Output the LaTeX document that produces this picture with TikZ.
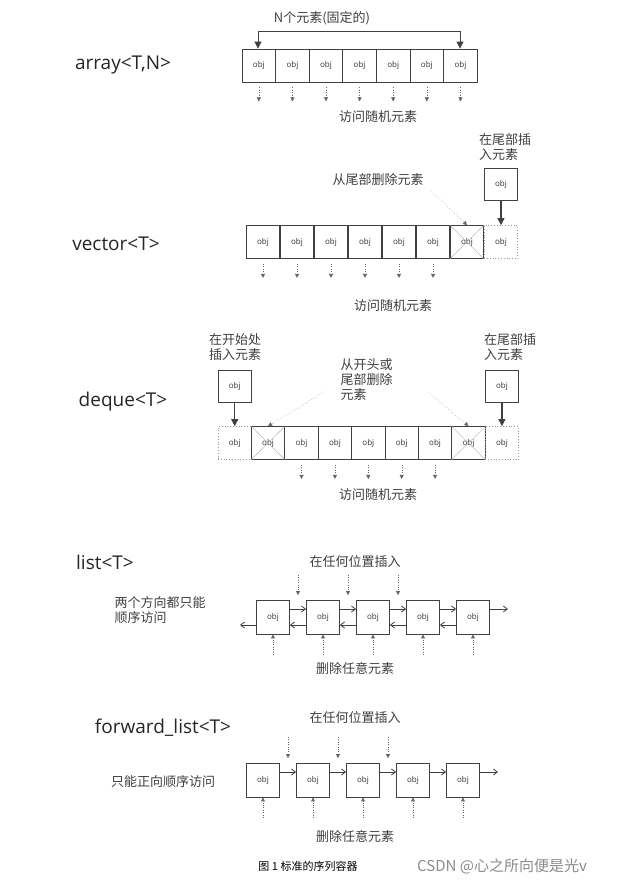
\documentclass[tikz,border=0pt]{standalone}
\usepackage{fontspec}
\setmainfont{Open Sans}
\newfontfamily\cjk{Noto Sans CJK SC}
\usetikzlibrary{arrows.meta}
\begin{document}
\begin{tikzpicture}[x=1pt,y=-1pt,
  cell/.style={draw=black!75,line width=0.8pt,minimum width=33.6pt,minimum height=33pt,inner sep=0pt,font=\fontsize{8}{9}\selectfont,text=black!80},
  ghost/.style={cell,draw=black!40,dotted},
  lbl/.style={font=\fontsize{19}{21}\selectfont,text=black!85},
  cn/.style={font=\cjk\fontsize{13}{15}\selectfont,text=black!75,align=left},
  dotarr/.style={dotted,black!60,-{Triangle[length=4pt,width=4pt]},draw=black!60},
  thick arr/.style={line width=1.2pt,black!75,-{Triangle[length=7pt,width=7pt]}},
  link/.style={black!75,line width=0.8pt,-{Straight Barb[length=4pt,width=6pt]}}]
\useasboundingbox[fill=white] (0,0) rectangle (626,886);
% ---------- array
\node[lbl] (la) at (123,65) {array<T,N>};
\foreach \i in {1,...,7}{\node[cell] (a\i) at ({242+33.6*(\i-0.5)},65.5) {obj};}
\coordinate (ab1) at (258,31); \coordinate (ab2) at (460,31);
\draw[black!75,line width=0.8pt] (ab1) -- (ab2);
\draw[thick arr,line width=0.8pt] (ab1) -- (ab1 |- a1.north);
\draw[thick arr,line width=0.8pt] (ab2) -- (ab2 |- a7.north);
\node[cn] (tn) at (322,18) {N个元素(固定的)};
\foreach \i in {1,...,7}{\draw[dotarr] ([yshift=-5pt]a\i.south) -- ++(0,14);}
\node[cn] (ra) at (378,117) {访问随机元素};
% ---------- vector
\node[lbl] (lv) at (116,244) {vector<T>};
\foreach \i in {1,...,7}{\node[cell] (v\i) at ({246+34*(\i-0.5)},242) {obj};}
\node[ghost] (v8) at ({246+34*7.5},242) {obj};
\draw[black!30,thin] (v7.north west) -- (v7.south east) (v7.north east) -- (v7.south west);
\foreach \i in {1,...,6}{\draw[dotarr] ([yshift=-5pt]v\i.south) -- ++(0,14);}
\node[cn] (rv) at (393,306) {访问随机元素};
\node[cn] (dv) at (378,180) {从尾部删除元素};
\draw[dotarr] (430,190) -- (v7.north);
\node[cell,minimum width=33pt,minimum height=32pt] (iv) at (501,184) {obj};
\node[cn] (tiv) at (505,147) {在尾部插\\入元素};
\draw[thick arr] (iv.south) -- (v8.north);
% ---------- deque
\node[lbl] (ld) at (123,402) {deque<T>};
\node[ghost,minimum width=33.4pt] (d1) at ({218+33.4*0.5},443) {obj};
\foreach \i in {2,...,8}{\node[cell,minimum width=33.4pt] (d\i) at ({218+33.4*(\i-0.5)},443) {obj};}
\node[ghost,minimum width=33.4pt] (d9) at ({218+33.4*8.5},443) {obj};
\foreach \k in {2,8}{\draw[black!30,thin] (d\k.north west) -- (d\k.south east) (d\k.north east) -- (d\k.south west);}
\node[cell,minimum width=33pt,minimum height=32pt] (il) at (d1 |- 0,386) {obj};
\node[cell,minimum width=33pt,minimum height=32pt] (ir) at (d9 |- 0,386) {obj};
\draw[thick arr] (il.south) -- (d1.north);
\draw[thick arr] (ir.south) -- (d9.north);
\node[cn] (til) at (235,347) {在开始处\\插入元素};
\node[cn] (tir) at (510,347) {在尾部插\\入元素};
\node[cn,anchor=west] (dd) at (337,380) {从开头或\\尾部删除\\元素};
\draw[dotarr] (324,392) -- (d2.north);
\draw[dotarr] (428,392) -- (d8.north);
\foreach \i in {3,...,7}{\draw[dotarr] ([yshift=-5pt]d\i.south) -- ++(0,14);}
\node[cn] (rd) at (378,495) {访问随机元素};
% ---------- list
\node[lbl] (ll) at (105,562) {list<T>};
\node[cn] (tl) at (160,610) {两个方向都只能\\顺序访问};
\foreach \i in {1,...,5}{\node[cell,minimum width=33pt,minimum height=34pt] (l\i) at ({273+50*(\i-1)},617) {obj};}
\foreach \i/\j in {1/2,2/3,3/4,4/5}{
  \draw[link] ([yshift=8pt]l\i.east) -- ([yshift=8pt]l\j.west);
  \draw[link] ([yshift=-8pt]l\j.west) -- ([yshift=-8pt]l\i.east);}
\coordinate (lend) at (508,609); \coordinate (lbeg) at (240,625);
\draw[link] ([yshift=8pt]l5.east) -- (lend);
\draw[link] ([yshift=-8pt]l1.west) -- (lbeg);
\foreach \x in {298,348,398}{\draw[dotarr] (\x,575) -- (\x,595);}
\foreach \i in {1,...,5}{\draw[dotarr] ([yshift=-20pt]l\i.south) -- (l\i.south);}
\node[cn] (il1) at (355,562) {在任何位置插入};
\node[cn] (dl1) at (355,668) {删除任意元素};
% ---------- forward_list
\node[lbl] (lf) at (163,728) {forward\_list<T>};
\node[cn] (tf) at (163,782) {只能正向顺序访问};
\foreach \i in {1,...,5}{\node[cell,minimum width=33pt,minimum height=34pt] (f\i) at ({263+50*(\i-1)},780) {obj};}
\foreach \i/\j in {1/2,2/3,3/4,4/5}{\draw[link] ([yshift=8pt]f\i.east) -- ([yshift=8pt]f\j.west);}
\coordinate (fend) at (498,772);
\draw[link] ([yshift=8pt]f5.east) -- (fend);
\foreach \x in {288,338,388}{\draw[dotarr] (\x,737) -- (\x,758);}
\foreach \i in {1,...,5}{\draw[dotarr] ([yshift=-20pt]f\i.south) -- (f\i.south);}
\node[cn] (if1) at (355,718) {在任何位置插入};
\node[cn] (df1) at (355,836) {删除任意元素};
% ---------- caption
\node[font=\cjk\fontsize{11}{12}\selectfont] (cap) at (308,866) {图 1 标准的序列容器};
\node[font=\cjk\fontsize{15}{16}\selectfont,text=black!45] (csdn) at (502,866) {CSDN @心之所向便是光v};
\end{tikzpicture}
\end{document}
